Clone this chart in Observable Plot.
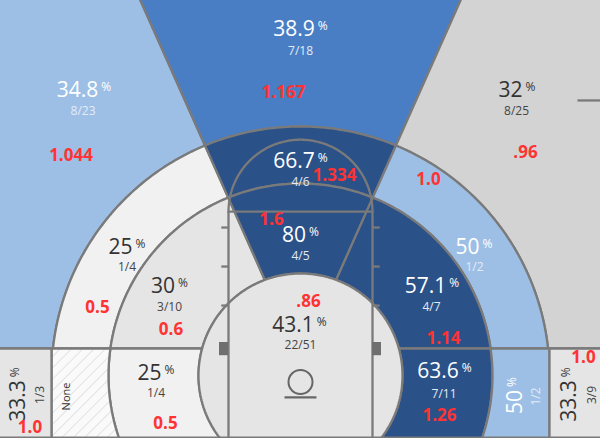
<!DOCTYPE html>
<html><head><meta charset="utf-8">
<script src="https://cdn.jsdelivr.net/npm/d3@7"></script>
<script src="https://cdn.jsdelivr.net/npm/@observablehq/plot@0.6"></script>
<style>body{margin:0;background:#fff} svg{display:block}</style>
</head><body>
<script>
// ---------------- DATA ----------------
const zones = ["wingL","top3","wingR","midL","midC","midR","inL","inC","inR","lowL","lowR","noneL","lowR2","cornerL","cornerR","rim"];
const makes    = [8, 7, 8, 1, 4, 1, 3, 4, 4, 1, 7, 0, 1, 1, 3, 22];
const attempts = [23,18,25, 4, 6, 2,10, 5, 7, 4,11, 0, 2, 3, 9, 51];
const pointsPerShot = ["1.044","1.167",".96","0.5","1.334","1.0","0.6","1.6","1.14","0.5","1.26",null,null,"1.0","1.0",".86"];
const tones = ["blue1","blue2","grey3","grey1","blue3","blue1","grey2","blue3","blue3","grey1","blue3","none","blue1","grey2","grey2","grey2"];
const toneNames  = ["blue3","blue2","blue1","grey3","grey2","grey1","none"];
const toneColors = ["#2b5189","#4a7ec4","#9dbfe5","#d3d3d3","#e5e5e5","#f1f1f1","url(#hatch)"];
const noneLabel = "None";

// ---------------- LAYOUT (court geometry in feet, label anchors in px) ----------------
const W = 600, Hh = 438;
const HOOP_Y = 5.25, R1 = 8.5, R2 = 16, R3 = 20.75, YS = 7.5, XC = 20.75, K = 0.445, Y0 = 6.54;
const XE = 26, YE = 37.5;
const labelLayout = {
  wingL:  {num:[83.5,90],   frac:[82.5,111],  red:[70.5,155]},
  top3:   {num:[300,29],    frac:[300,51],    red:[283,92]},
  wingR:  {num:[516.5,90],  frac:[516,111],   red:[525,152.5]},
  midL:   {num:[126.5,247], frac:[126.5,267], red:[97,307]},
  midC:   {num:[300,161],   frac:[300,182],   red:[334,175.5]},
  midR:   {num:[473.5,247], frac:[474,267],   red:[428,179]},
  inL:    {num:[169,286],   frac:[169,307],   red:[170.5,329]},
  inC:    {num:[300,235],   frac:[300,256],   red:[271,219]},
  inR:    {num:[431.5,286], frac:[431,307],   red:[443,338]},
  lowL:   {num:[155.5,372.5],frac:[155.5,393],red:[165,423]},
  lowR:   {num:[444,371],   frac:[443.5,394], red:[439,415]},
  noneL:  {num:[66,396], rot:true},
  lowR2:  {num:[515,395],   frac:[536,396], rot:true},
  cornerL:{num:[18,394],    frac:[40,394.5],  red:[29.5,427], rot:true},
  cornerR:{num:[569,394],   frac:[592,394.5], red:[583,357], rot:true},
  rim:    {num:[299,325],   frac:[300,345],   red:[308,301]}
};

const xs = Plot.scale({x: {domain: [-25, 25], range: [0, W]}});
const ys = Plot.scale({y: {domain: [0, 36.5], range: [Hh, 0]}});
const fx = px => xs.invert(px), fy = py => ys.invert(py);

// geometry helpers
const arc = (R, a0, a1, cx = 0, cy = HOOP_Y) => {
  const n = Math.max(2, Math.ceil(Math.abs(a1 - a0) / 0.015));
  return d3.range(n + 1).map(i => { const a = a0 + (a1 - a0) * i / n; return [cx + R * Math.cos(a), cy + R * Math.sin(a)]; });
};
function cross(R, s) {
  const a = K * K + 1, b = -2 * (K * K * Y0 + HOOP_Y), c = K * K * Y0 * Y0 + HOOP_Y * HOOP_Y - R * R;
  const Y = (-b + Math.sqrt(b * b - 4 * a * c)) / (2 * a);
  return [s * K * (Y - Y0), Y];
}
const ang = p => Math.atan2(p[1] - HOOP_Y, p[0]);
const aL = R => ang(cross(R, -1)), aR = R => ang(cross(R, 1));
const aSL = R => Math.PI - Math.asin((YS - HOOP_Y) / R), aSR = R => Math.asin((YS - HOOP_Y) / R);
const aBL = R => Math.PI + Math.asin(HOOP_Y / R), aBR = R => -Math.asin(HOOP_Y / R);
const lineAt = (Y, s) => [s * K * (Y - Y0), Y];

const shapes = {
  wingL: [[-XE, YS], [-XE, YE], lineAt(YE, -1), ...arc(R3, aL(R3), aSL(R3))],
  top3:  [lineAt(YE, -1), lineAt(YE, 1), ...arc(R3, aR(R3), aL(R3))],
  wingR: [[XE, YS], [XE, YE], lineAt(YE, 1), ...arc(R3, aR(R3), aSR(R3))],
  midL:  [...arc(R3, aL(R3), aSL(R3)), ...arc(R2, aSL(R2), aL(R2))],
  midC:  [...arc(R3, aR(R3), aL(R3)), ...arc(R2, aL(R2), aR(R2))],
  midR:  [...arc(R3, aSR(R3), aR(R3)), ...arc(R2, aR(R2), aSR(R2))],
  inL:   [...arc(R2, aL(R2), aSL(R2)), ...arc(R1, aSL(R1), aL(R1))],
  inC:   [...arc(R2, aR(R2), aL(R2)), ...arc(R1, aL(R1), aR(R1))],
  inR:   [...arc(R2, aSR(R2), aR(R2)), ...arc(R1, aR(R1), aSR(R1))],
  lowL:  [...arc(R2, aSL(R2), aBL(R2)), ...arc(R1, aBL(R1), aSL(R1))],
  lowR:  [...arc(R2, aBR(R2), aSR(R2)), ...arc(R1, aSR(R1), aBR(R1))],
  noneL: [[-XC, YS], [-XC, 0], ...arc(R2, aBL(R2), aSL(R2))],
  lowR2: [[XC, YS], [XC, 0], ...arc(R2, aBR(R2), aSR(R2))],
  cornerL: [[-XE, 0], [-XC, 0], [-XC, YS], [-XE, YS]],
  cornerR: [[XE, 0], [XC, 0], [XC, YS], [XE, YS]],
  rim:   arc(R1, aBR(R1), aBL(R1))
};

const polyRows = [];
zones.forEach((z, i) => {
  const pts = shapes[z];
  [...pts, pts[0]].forEach(p => polyRows.push({zone: z, tone: tones[i], X: p[0], Y: p[1]}));
});

// court markings (feet)
const laneHalf = 6, ftY = 18.9, ftR = 6;
const laneTicksY = [11.08, 14.33, 17.58];
const laneBlock = [6.9, 8.0];
const paint = [[-laneHalf, 0], [-laneHalf, ftY], [laneHalf, ftY], [laneHalf, 0]];
const ftArc = arc(ftR, 0, Math.PI, 0, ftY);
const ticks = laneTicksY.flatMap(y => [{x1: -laneHalf - 0.6, x2: -laneHalf, y}, {x1: laneHalf, x2: laneHalf + 0.6, y}]);
const blocks = [{x1: -laneHalf - 0.75, x2: -laneHalf, y1: laneBlock[0], y2: laneBlock[1]}, {x1: laneHalf, x2: laneHalf + 0.75, y1: laneBlock[0], y2: laneBlock[1]}];
const hoop = [{x: 0, y: 4.71}];
const backboard = [{x1: -1.33, x2: 1.33, y: 3.42}];
const hash = [{x1: 23.08, x2: 25.5, y: 28.17}];

// ---------------- LABELS ----------------
const ctx = document.createElement("canvas").getContext("2d");
const tw = (s, size, weight = "normal") => { ctx.font = `${weight} ${size}px "Open Sans"`; return ctx.measureText(s).width; };
const NUM = 21, PCT = 12, FRAC = 12, RED = 17, GAP = 3;
const isBlue = t => t.startsWith("blue");
const numRows = [], pctRows = [], fracRows = [], redRows = [], noneRows = [];
zones.forEach((z, i) => {
  const L = labelLayout[z];
  if (attempts[i] === 0) { noneRows.push({x: fx(L.num[0]), y: fy(L.num[1]), text: noneLabel}); return; }
  const pct = String(Math.round(makes[i] / attempts[i] * 1000) / 10);
  const frac = `${makes[i]}/${attempts[i]}`;
  const blue = isBlue(tones[i]);
  const c1 = blue ? "#ffffff" : "#333333", c2 = blue ? "#e4ebf5" : "#444444";
  const wN = tw(pct, NUM), wP = tw("%", PCT), total = wN + GAP + wP;
  if (!L.rot) {
    const left = L.num[0] - total / 2;
    numRows.push({x: fx(left), y: fy(L.num[1]), text: pct, c: c1, r: 0});
    pctRows.push({x: fx(left + wN + GAP), y: fy(L.num[1] - 3), text: "%", c: c1, r: 0});
  } else {
    const bottom = L.num[1] + total / 2;
    numRows.push({x: fx(L.num[0]), y: fy(bottom), text: pct, c: c1, r: -90});
    pctRows.push({x: fx(L.num[0] - 3), y: fy(bottom - wN - GAP), text: "%", c: c1, r: -90});
  }
  fracRows.push({x: fx(L.frac[0]), y: fy(L.frac[1]), text: frac, c: c2, r: L.rot ? -90 : 0});
  if (pointsPerShot[i] && L.red) redRows.push({x: fx(L.red[0]), y: fy(L.red[1]), text: pointsPerShot[i]});
});

const LINE = "#7a7a7a";
const chart = Plot.plot({
  width: W, height: Hh, margin: 0,
  x: {domain: [-25, 25], axis: null},
  y: {domain: [0, 36.5], axis: null},
  color: {domain: toneNames, range: toneColors},
  style: {fontFamily: "'Open Sans', sans-serif", overflow: "hidden", background: "white"},
  marks: [
    Plot.line(polyRows, {x: "X", y: "Y", z: "zone", fill: "tone", stroke: LINE, strokeWidth: 2.3, strokeLinejoin: "miter", strokeLinecap: "butt"}),
    Plot.line(paint, {x: d => d[0], y: d => d[1], stroke: LINE, strokeWidth: 2.3}),
    Plot.line(ftArc, {x: d => d[0], y: d => d[1], stroke: LINE, strokeWidth: 2.3}),
    Plot.link(ticks, {x1: "x1", x2: "x2", y1: "y", y2: "y", stroke: LINE, strokeWidth: 2.3}),
    Plot.rect(blocks, {x1: "x1", x2: "x2", y1: "y1", y2: "y2", fill: "#6f6f6f"}),
    Plot.dot(hoop, {x: "x", y: "y", r: 12, stroke: "#666", strokeWidth: 2, fill: "none"}),
    Plot.link(backboard, {x1: "x1", x2: "x2", y1: "y", y2: "y", stroke: "#666", strokeWidth: 2.3}),
    Plot.link(hash, {x1: "x1", x2: "x2", y1: "y", y2: "y", stroke: LINE, strokeWidth: 2.3}),
    Plot.link([{x1: -26, x2: 26, y: 0}], {x1: "x1", x2: "x2", y1: "y", y2: "y", stroke: LINE, strokeWidth: 4}),
    Plot.text(numRows, {x: "x", y: "y", text: "text", fill: "c", rotate: "r", textAnchor: "start", fontSize: NUM, fontFamily: "Open Sans"}),
    Plot.text(pctRows, {x: "x", y: "y", text: "text", fill: "c", rotate: "r", textAnchor: "start", fontSize: PCT, fontFamily: "Open Sans"}),
    Plot.text(fracRows, {x: "x", y: "y", text: "text", fill: "c", rotate: "r", fontSize: FRAC, fontFamily: "Open Sans"}),
    Plot.text(redRows, {x: "x", y: "y", text: "text", fill: "#ff3333", fontSize: RED, fontWeight: "bold", fontFamily: "Open Sans"}),
    Plot.text(noneRows, {x: "x", y: "y", text: "text", fill: "#333", rotate: -90, fontSize: 11, fontFamily: "Open Sans"})
  ]
});

// hatch pattern for the zone without attempts
const svg = d3.select(chart);
const defs = svg.insert("defs", ":first-child");
const pat = defs.append("pattern").attr("id", "hatch").attr("patternUnits", "userSpaceOnUse")
  .attr("width", 8).attr("height", 8).attr("patternTransform", "rotate(45)");
pat.append("rect").attr("width", 8).attr("height", 8).attr("fill", "#fafafa");
pat.append("line").attr("x1", 0).attr("y1", 0).attr("x2", 0).attr("y2", 8).attr("stroke", "#d6d6d6").attr("stroke-width", 1.3);
document.body.appendChild(chart);
</script>
</body></html>
